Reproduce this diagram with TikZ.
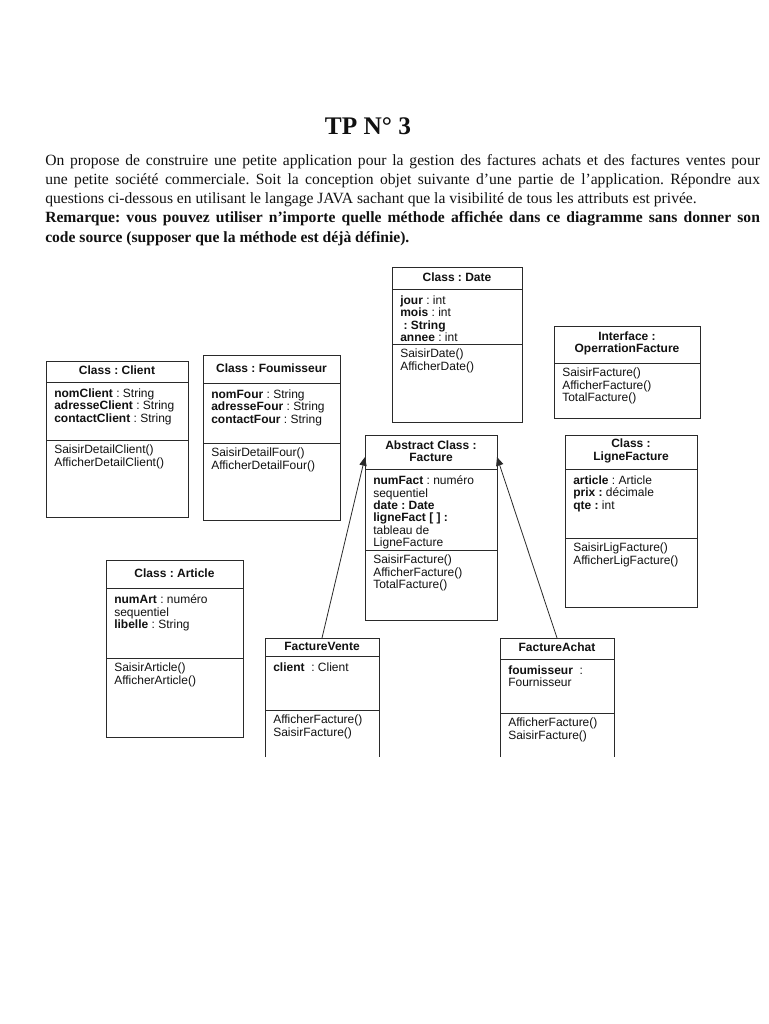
\documentclass[tikz,border=0pt]{standalone}
\usepackage{fontspec}
\setmainfont{Liberation Serif}
\setsansfont{Liberation Sans}
\usepackage{tikz}
\usetikzlibrary{arrows.meta,calc,positioning,fit}
\definecolor{ink}{HTML}{111111}
\definecolor{edge}{HTML}{2A2A2A}
\setlength{\parindent}{0pt}
\frenchspacing
\newcommand{\umlfont}{\sffamily\fontsize{9}{9.3}\selectfont}

\tikzset{
  classbox/.style={inner sep=0pt,outer sep=0pt},
  classline/.style={draw=edge,line width=0.6pt},
  classtitle/.style={font=\umlfont\bfseries,color=ink,align=center,inner sep=0pt},
  members/.style={font=\umlfont,color=ink,align=left,inner sep=0pt,anchor=north west},
  inherit/.style={-{Triangle[length=6.5pt,width=5.5pt]},color=edge,line width=0.6pt}
}

\begin{document}
\begin{tikzpicture}[x=0.75pt,y=-0.75pt]
  \useasboundingbox[fill=white] (0,0) rectangle (768,1024);

  % heading and statement
  \node[font=\bfseries\fontsize{19}{22}\selectfont,color=ink] (tp) at (368,126) {TP N° 3};
  \node[anchor=north west,inner sep=0pt,text width=536pt,align=justify,color=ink,
        font=\fontsize{11.7}{14.4}\selectfont] (enonce) at (45,154) {%
    On propose de construire une petite application pour la gestion des factures achats et des factures ventes pour\linebreak
    une petite société commerciale. Soit la conception objet suivante d’une partie de l’application. Répondre aux\linebreak
    questions ci-dessous en utilisant le langage JAVA sachant que la visibilité de tous les attributs est privée.\\
    \textbf{Remarque: vous pouvez utiliser n’importe quelle méthode affichée dans ce diagramme sans donner son\linebreak
    code source (supposer que la méthode est déjà définie).}};

  % classes: name / box / header line / divider / title / attributes / methods
  \foreach \nm/\xa/\ya/\xb/\yb/\yh/\yd/\ttl/\att/\mth in {
    client/46/361/188/517/382/440/{Class : Client}/{\textbf{nomClient} : String\\\textbf{adresseClient} : String\\\textbf{contactClient} : String}/{SaisirDetailClient()\\AfficherDetailClient()},
    four/203/355/340/520/383/443/{Class : Foumisseur}/{\textbf{nomFour} : String\\\textbf{adresseFour} : String\\\textbf{contactFour} : String}/{SaisirDetailFour()\\AfficherDetailFour()},
    date/392/267/522/422/289/344/{Class : Date}/{\textbf{jour} : int\\\textbf{mois} : int\\\textbf{\ : String}\\\textbf{annee} : int}/{SaisirDate()\\AfficherDate()},
    operr/554/326/700/418/363/363/{Interface :\\OperrationFacture}/{}/{SaisirFacture()\\AfficherFacture()\\TotalFacture()},
    facture/365/435/497/620/469/550/{Abstract Class :\\Facture}/{\textbf{numFact} : numéro\\sequentiel\\\textbf{date : Date}\\\textbf{ligneFact [ ] :}\\tableau de\\LigneFacture}/{SaisirFacture()\\AfficherFacture()\\TotalFacture()},
    ligne/565/435/697/607/469/538/{Class :\\LigneFacture}/{\textbf{article} : Article\\\textbf{prix :} décimale\\\textbf{qte :} int}/{SaisirLigFacture()\\AfficherLigFacture()},
    article/106/560/243/737/588/658/{Class : Article}/{\textbf{numArt} : numéro\\sequentiel\\\textbf{libelle} : String}/{SaisirArticle()\\AfficherArticle()},
    vente/265/638/379/757/656/710/{FactureVente}/{\textbf{client} \ : Client}/{AfficherFacture()\\SaisirFacture()},
    achat/500/638/614/757/659/713/{FactureAchat}/{\textbf{foumisseur} \ :\\Fournisseur}/{AfficherFacture()\\SaisirFacture()}} {
    \node[classbox,fit={(\xa,\ya) (\xb,\yb)}] (\nm) {};
    \draw[classline] (\nm.west |- 0,\yh) -- (\nm.east |- 0,\yh);
    \draw[classline] (\nm.west |- 0,\yd) -- (\nm.east |- 0,\yd);
    \node[classtitle] (\nm-title) at ({(\xa+\xb)/2},{(\ya+\yh)/2-1}) {\ttl};
    \node[members] (\nm-attr) at (\xa+8,\yh+6.5) {\att};
    \node[members] (\nm-meth) at (\xa+8,\yd+5) {\mth};
  }

  % outlines (the two subclasses stay open at the bottom)
  \foreach \nm in {client,four,date,operr,facture,ligne,article}
    \draw[classline] (\nm.south west) rectangle (\nm.north east);
  \foreach \nm in {vente,achat}
    \draw[classline] (\nm.south west) |- (\nm.north east) -- (\nm.south east);

  % inheritance
  \coordinate (facture-l) at ($(facture.north west)+(0,22)$);
  \coordinate (facture-r) at ($(facture.north east)+(0,22)$);
  \draw[inherit] (vente.north) -- (facture-l);
  \draw[inherit] (achat.north) -- (facture-r);
\end{tikzpicture}
\end{document}
